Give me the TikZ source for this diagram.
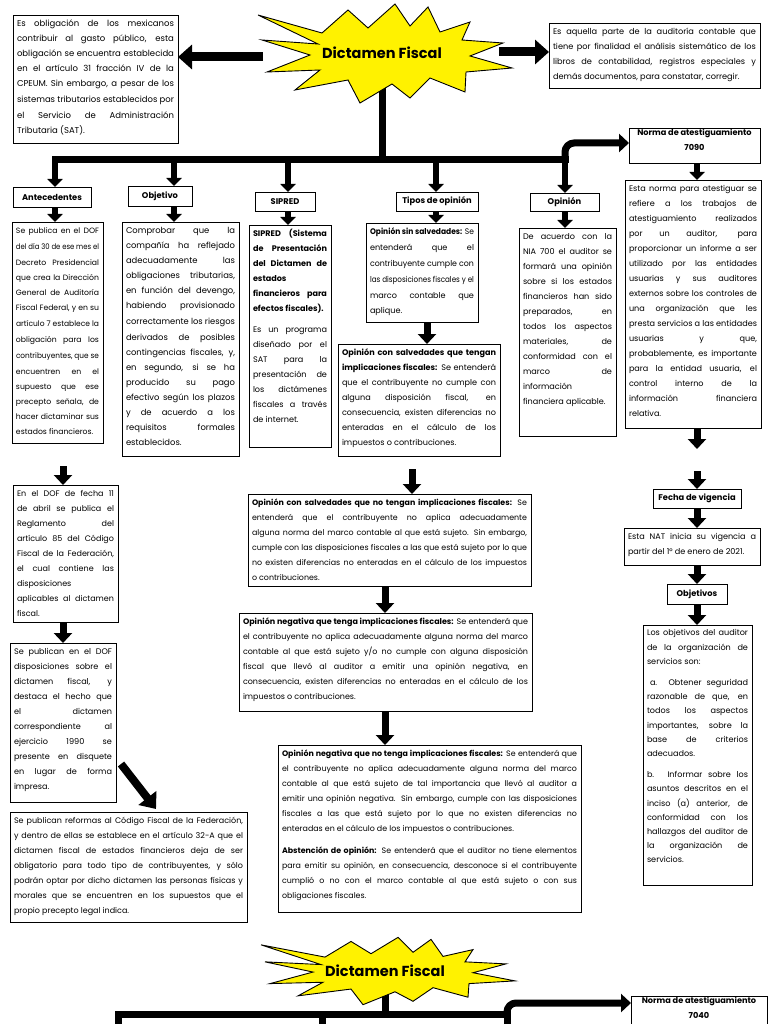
\documentclass[tikz,border=0pt]{standalone}
\usepackage{fontspec}
\usepackage{graphicx}
\setmainfont{Poppins}
\usetikzlibrary{arrows.meta}
\pgfdeclarelayer{bg}
\pgfsetlayers{bg,main}
\newsavebox\jbox
\newcommand\jl[1]{\sbox\jbox{\strut#1}\ifdim\wd\jbox>\linewidth\resizebox{\linewidth}{\height}{\usebox\jbox}\else\makebox[\linewidth][s]{\strut#1}\fi\par}
\newcommand\lastl[1]{\sbox\jbox{\strut#1}\ifdim\wd\jbox>\linewidth\resizebox{\linewidth}{\height}{\usebox\jbox}\else\usebox\jbox\fi\par}
\newcommand\gap[1]{\vspace{#1pt}}
\newcommand\TB[8]{\node[tb,anchor=north west] (#1) at (#2,#3) {\parbox[c][\dimexpr#5pt-2pt\relax][t]{\dimexpr#4pt-8pt\relax}{\fontsize{#6}{#7}\selectfont#8}};}
\newcommand\LB[6]{\node[lb,anchor=north west,minimum width=#4pt,minimum height=#5pt] (#1) at (#2,#3) {#6};}
\tikzset{
  tb/.style={draw, line width=0.9pt, fill=white, inner xsep=4pt, inner ysep=1pt, outer sep=0pt},
  lb/.style={draw, line width=0.9pt, fill=white, inner sep=0pt, outer sep=0pt, align=center, font=\fontsize{8.3}{10}\selectfont\bfseries},
  bar/.style={line width=7pt, line cap=rect},
  dar/.style={line width=5.5pt, -{Triangle[length=8pt,width=15pt]}},
  mar/.style={line width=7pt, -{Triangle[length=10pt,width=18pt]}},
  bigar/.style={line width=9pt, -{Triangle[length=14pt,width=24pt]}},
  hook/.style={line width=7pt, rounded corners=9pt, -{Triangle[length=10pt,width=18pt]}},
  startxt/.style={font=\fontsize{14.5}{16}\selectfont\bfseries, inner sep=0pt},
  explo/.pic={\draw[fill=yellow, line width=0.9pt, line join=miter]
    (-124,-37) -- (-60,-19) -- (-34,-42) -- (-14,-24) -- (13,-48) -- (28,-26) -- (46,-45) -- (58,-20)
    -- (88,-30) -- (80,-12) -- (121,-9) -- (88,4) -- (130,16) -- (84,20) -- (83,40) -- (48,26)
    -- (28,46) -- (10,32) -- (-22,51) -- (-34,28) -- (-87,38) -- (-62,18) -- (-115,20) -- (-72,3)
    -- (-120,-12) -- (-64,-8) -- cycle;}
}
\begin{document}
\begin{tikzpicture}[x=1pt,y=-1pt]
\useasboundingbox (0,0) rectangle (768,1024);
\begin{pgfonlayer}{bg}
\fill[white] (0,0) rectangle (768,1024);
\end{pgfonlayer}

% ---------- top stars and boxes
\pic at (382,52) {explo};
\node[startxt] (star1) at (382,53) {Dictamen Fiscal};

\TB{A0}{13}{15}{165}{128}{8.5}{15}{%
\jl{Es obligación de los mexicanos}
\jl{contribuir al gasto público, esta}
\jl{obligación se encuentra establecida}
\jl{en el artículo 31 fracción IV de la}
\jl{CPEUM. Sin embargo, a pesar de los}
\jl{sistemas tributarios establecidos por}
\jl{el Servicio de Administración}
\lastl{Tributaria (SAT).}}

\TB{R0}{549}{23}{211}{65}{8.2}{15}{%
\jl{Es aquella parte de la auditoría contable que}
\jl{tiene por finalidad el análisis sistemático de los}
\jl{libros de contabilidad, registros especiales y}
\lastl{demás documentos, para constatar, corregir.}}

% ---------- labels
\LB{ante}{13}{187}{78}{20}{Antecedentes}
\LB{obj}{128}{186}{64}{20}{Objetivo}
\LB{sip}{255}{192}{60}{19}{SIPRED}
\LB{tip}{396}{192}{82}{19}{Tipos de opinión}
\LB{opi}{530}{193}{69}{18}{Opinión}
\TB{n7090}{629}{128}{131}{35}{8.2}{15}{\centering\bfseries Norma de atestiguamiento\\7090\par}

% ---------- bodies
\TB{anteB}{12}{222}{91}{221}{7.7}{15}{%
\jl{Se publica en el DOF}
\jl{del día 30 de ese mes el}
\jl{Decreto Presidencial}
\jl{que crea la Dirección}
\jl{General de Auditoría}
\jl{Fiscal Federal, y en su}
\jl{artículo 7 establece la}
\jl{obligación para los}
\jl{contribuyentes, que se}
\jl{encuentren en el}
\jl{supuesto que ese}
\jl{precepto señala, de}
\jl{hacer dictaminar sus}
\lastl{estados financieros.}}

\TB{objB}{122}{222}{117}{234}{8.4}{15}{%
\jl{Comprobar que la}
\jl{compañía ha reflejado}
\jl{adecuadamente las}
\jl{obligaciones tributarias,}
\jl{en función del devengo,}
\jl{habiendo provisionado}
\jl{correctamente los riesgos}
\jl{derivados de posibles}
\jl{contingencias fiscales, y,}
\jl{en segundo, si se ha}
\jl{producido su pago}
\jl{efectivo según los plazos}
\jl{y de acuerdo a los}
\jl{requisitos formales}
\lastl{establecidos.}}

\TB{sipB}{249}{225}{82}{222}{8.1}{15}{%
\jl{\textbf{SIPRED (Sistema}}
\jl{\textbf{de Presentación}}
\jl{\textbf{del Dictamen de}}
\lastl{\textbf{estados}}
\jl{\textbf{financieros para}}
\lastl{\textbf{efectos fiscales).}}
\gap{6}
\jl{Es un programa}
\jl{diseñado por el}
\jl{SAT para la}
\jl{presentación de}
\jl{los dictámenes}
\jl{fiscales a través}
\lastl{de internet.}}

\TB{tip1}{366}{223}{112}{99}{8.1}{15}{%
\jl{\textbf{Opinión sin salvedades:} Se}
\jl{entenderá que el}
\jl{contribuyente cumple con}
\jl{las disposiciones fiscales y el}
\jl{marco contable que}
\lastl{aplique.}}

\TB{tip2}{338}{344}{162}{112}{8.1}{15}{%
\jl{\textbf{Opinión con salvedades que tengan}}
\jl{\textbf{implicaciones fiscales:} Se entenderá}
\jl{que el contribuyente no cumple con}
\jl{alguna disposición fiscal, en}
\jl{consecuencia, existen diferencias no}
\jl{enteradas en el cálculo de los}
\lastl{impuestos o contribuciones.}}

\TB{opiB}{519}{228}{97}{208}{8.1}{15}{%
\jl{De acuerdo con la}
\jl{NIA 700 el auditor se}
\jl{formará una opinión}
\jl{sobre si los estados}
\jl{financieros han sido}
\jl{preparados, en}
\jl{todos los aspectos}
\jl{materiales, de}
\jl{conformidad con el}
\jl{marco de}
\lastl{información}
\lastl{financiera aplicable.}}

\TB{n7090B}{625}{180}{136}{248}{8.1}{15}{%
\jl{Esta norma para atestiguar se}
\jl{refiere a los trabajos de}
\jl{atestiguamiento realizados}
\jl{por un auditor, para}
\jl{proporcionar un informe a ser}
\jl{utilizado por las entidades}
\jl{usuarias y sus auditores}
\jl{externos sobre los controles de}
\jl{una organización que les}
\jl{presta servicios a las entidades}
\jl{usuarias y que,}
\jl{probablemente, es importante}
\jl{para la entidad usuaria, el}
\jl{control interno de la}
\jl{información financiera}
\lastl{relativa.}}

% ---------- right lower column
\LB{fecha}{653}{489}{88}{19}{Fecha de vigencia}
\TB{nat}{624}{528}{136}{37}{8.1}{15}{%
\jl{Esta NAT inicia su vigencia a}
\lastl{partir del 1° de enero de 2021.}}
\LB{objs}{667}{584}{60}{20}{Objetivos}
\TB{objsB}{643}{625}{109}{260}{8.1}{14.2}{%
\jl{Los objetivos del auditor}
\jl{de la organización de}
\lastl{servicios son:}
\gap{7}
\jl{\hspace{3pt}a. Obtener seguridad}
\jl{razonable de que, en}
\jl{todos los aspectos}
\jl{importantes, sobre la}
\jl{base de criterios}
\lastl{adecuados.}
\gap{7}
\jl{b. Informar sobre los}
\jl{asuntos descritos en el}
\jl{inciso (a) anterior, de}
\jl{conformidad con los}
\jl{hallazgos del auditor de}
\jl{la organización de}
\lastl{servicios.}}

% ---------- left lower column
\TB{dof1}{13}{485}{105}{137}{8.0}{15}{%
\jl{En el DOF de fecha 11}
\jl{de abril se publica el}
\jl{Reglamento del}
\jl{artículo 85 del Código}
\jl{Fiscal de la Federación,}
\jl{el cual contiene las}
\lastl{disposiciones}
\jl{aplicables al dictamen}
\lastl{fiscal.}}

\TB{dof2}{10}{643}{106}{159}{8.1}{15}{%
\jl{Se publican en el DOF}
\jl{disposiciones sobre el}
\jl{dictamen fiscal, y}
\jl{destaca el hecho que}
\jl{el dictamen}
\jl{correspondiente al}
\jl{ejercicio 1990 se}
\jl{presente en disquete}
\jl{en lugar de forma}
\lastl{impresa.}}

\TB{ref}{10}{812}{237}{110}{8.0}{15}{%
\jl{Se publican reformas al Código Fiscal de la Federación,}
\jl{y dentro de ellas se establece en el artículo 32-A que el}
\jl{dictamen fiscal de estados financieros deja de ser}
\jl{obligatorio para todo tipo de contribuyentes, y sólo}
\jl{podrán optar por dicho dictamen las personas físicas y}
\jl{morales que se encuentren en los supuestos que el}
\lastl{propio precepto legal indica.}}

% ---------- middle lower column
\TB{tip3}{248}{494}{283}{92}{7.9}{15}{%
\jl{\textbf{Opinión con salvedades que no tengan implicaciones fiscales:} Se}
\jl{entenderá que el contribuyente no aplica adecuadamente}
\jl{alguna norma del marco contable al que está sujeto. Sin embargo,}
\jl{cumple con las disposiciones fiscales a las que está sujeto por lo que}
\jl{no existen diferencias no enteradas en el cálculo de los impuestos}
\lastl{o contribuciones.}}

\TB{tip4}{239}{613}{293}{98}{8.0}{15}{%
\jl{\textbf{Opinión negativa que tenga implicaciones fiscales:} Se entenderá que}
\jl{el contribuyente no aplica adecuadamente alguna norma del marco}
\jl{contable al que está sujeto y/o no cumple con alguna disposición}
\jl{fiscal que llevó al auditor a emitir una opinión negativa, en}
\jl{consecuencia, existen diferencias no enteradas en el cálculo de los}
\lastl{impuestos o contribuciones.}}

\TB{tip5}{278}{745}{303}{167}{7.9}{15}{%
\jl{\textbf{Opinión negativa que no tenga implicaciones fiscales:} Se entenderá que}
\jl{el contribuyente no aplica adecuadamente alguna norma del marco}
\jl{contable al que está sujeto de tal importancia que llevó al auditor a}
\jl{emitir una opinión negativa. Sin embargo, cumple con las disposiciones}
\jl{fiscales a las que está sujeto por lo que no existen diferencias no}
\lastl{enteradas en el cálculo de los impuestos o contribuciones.}
\gap{7}
\jl{\textbf{Abstención de opinión:} Se entenderá que el auditor no tiene elementos}
\jl{para emitir su opinión, en consecuencia, desconoce si el contribuyente}
\jl{cumplió o no con el marco contable al que está sujeto o con sus}
\lastl{obligaciones fiscales.}}

% ---------- bottom star
\pic[yscale=0.68] at (385,970) {explo};
\node[startxt] (star2) at (385,971) {Dictamen Fiscal};
\TB{n7040}{631}{996}{136}{40}{8.2}{15}{\centering\bfseries Norma de atestiguamiento\\7040\par}

% ---------- coordinates
\coordinate (la) at (263,57);
\coordinate (ra) at (499,52);
\coordinate (b1) at (55,160);
\coordinate (b2) at (174,160);
\coordinate (b3) at (288,160);
\coordinate (b4) at (436,160);
\coordinate (b5) at (565,160);
\coordinate (hk) at (565,143);
\coordinate (xa) at (427,0);
\coordinate (f1) at (63,466);
\coordinate (d1) at (121,764);
\coordinate (d2) at (156,809);
\coordinate (f2) at (412,469);
\coordinate (xb) at (385,0);
\coordinate (xc) at (697,0);
\coordinate (f3) at (697,449);
\coordinate (f4) at (697,471);
\coordinate (c1) at (118,1014);
\coordinate (c2) at (322,1014);
\coordinate (c3) at (507,1014);
\coordinate (e1) at (118,1040);
\coordinate (e2) at (322,1040);
\coordinate (e3) at (507,1040);
\coordinate (hk2) at (507,1003);

% ---------- connectors
\begin{pgfonlayer}{bg}
\draw[bigar] (la) -- (la -| A0.east);
\draw[bigar] (ra) -- (ra -| R0.west);
\draw[bar] (star1.center) -- (star1.center |- b1);
\draw[bar] (b1) -- (b5);
\foreach \b/\n in {b1/ante,b2/obj,b3/sip,b4/tip,b5/opi}
  \draw[dar] (\b) -- (\b |- \n.north);
\draw[hook] (b5) -- (hk) -- (hk -| n7090.west);
\draw[dar] (ante.south -| b1) -- (anteB.north -| b1);
\draw[dar] (obj.south -| b2) -- (objB.north -| b2);
\draw[dar] (sip.south -| b3) -- (sipB.north -| b3);
\draw[dar] (tip.south -| b4) -- (tip1.north -| b4);
\draw[dar] (opi.south -| b5) -- (opiB.north -| b5);
\draw[dar] (n7090.south -| xc) -- (n7090B.north -| xc);
\draw[mar] (tip1.south -| xa) -- (tip2.north -| xa);
\draw[mar] (f1) -- (f1 |- dof1.north);
\draw[mar] (dof1.south -| f1) -- (dof2.north -| f1);
\draw[line width=8pt, -{Triangle[length=14pt,width=22pt]}] (d1) -- (d2);
\draw[mar] (f2) -- (f2 |- tip3.north);
\draw[mar] (tip3.south -| xb) -- (tip4.north -| xb);
\draw[mar] (tip4.south -| xb) -- (tip5.north -| xb);
\draw[mar] (n7090B.south -| xc) -- (f3);
\draw[mar] (f4) -- (f4 |- fecha.north);
\draw[mar] (fecha.south -| xc) -- (nat.north -| xc);
\draw[mar] (nat.south -| xc) -- (objs.north -| xc);
\draw[mar] (objs.south -| xc) -- (objsB.north -| xc);
\draw[bar] (star2.center) -- (star2.center |- c1);
\draw[bar] (c1) -- (c3);
\draw[bar] (c1) -- (e1);
\draw[bar] (c2) -- (e2);
\draw[bar] (c3) -- (e3);
\draw[hook] (c3) -- (hk2) -- (hk2 -| n7040.west);
\end{pgfonlayer}
\end{tikzpicture}
\end{document}
